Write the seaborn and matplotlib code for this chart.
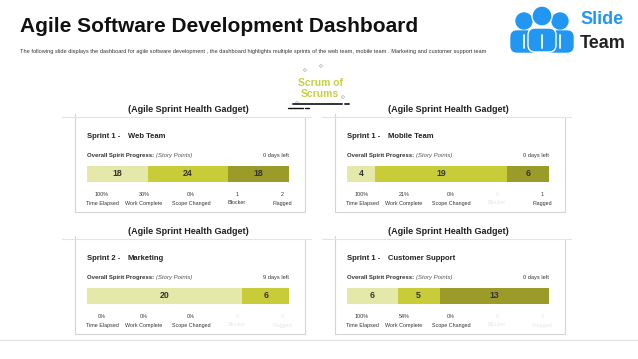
import matplotlib
matplotlib.use("Agg")
import matplotlib.pyplot as plt
from matplotlib.patches import Circle, FancyBboxPatch
import seaborn as sns
import numpy as np

# ---- data ----
title = "Agile Software Development Dashboard"
subtitle = ("The following slide displays the dashboard for agile software development , the dashboard "
            "highlights multiple sprints of the web team, mobile team . Marketing and customer support team")
gadget_title = "(Agile Sprint Health Gadget)"
center_title = ["Scrum of", "Scrums"]

sprints = ["Sprint 1 -", "Sprint 1 -", "Sprint 2 -", "Sprint 1 -"]
teams = ["Web Team", "Mobile Team", "Marketing", "Customer Support"]
days_left = ["0 days left", "0 days left", "9 days left", "0 days left"]
story_points = [[18, 24, 18], [4, 19, 6], [20, 6], [6, 5, 13]]
stat_labels = ["Time Elapsed", "Work Complete", "Scope Changed", "Blocker", "Flagged"]
stat_values = [["100%", "30%", "0%", "1", "2"],
               ["100%", "21%", "0%", "0", "1"],
               ["0%", "0%", "0%", "0", "0"],
               ["100%", "54%", "0%", "0", "0"]]

seg_colors = ["#E4E8A8", "#C8CC38", "#9A9B28"]
green = "#C8CE44"
W, H = 638, 359

sns.set_style("white")
plt.rcParams["font.family"] = ["Liberation Sans", "DejaVu Sans"]

fig = plt.figure(figsize=(W / 100, H / 100), dpi=100)
bg = fig.add_axes([0, 0, 1, 1])
bg.set_xlim(0, W)
bg.set_ylim(H, 0)
bg.axis("off")

# header
bg.text(20, 26, title, fontsize=15, fontweight="bold", color="#111", va="center")
bg.text(20, 51, subtitle, fontsize=4.1, color="#333", va="center")

# logo
blue = "#2196F3"
for cx, cy, r in [(524, 21, 8), (560, 21, 8)]:
    bg.add_patch(Circle((cx, cy), r, color=blue))
for x0, w in [(511, 26), (547, 26)]:
    bg.add_patch(FancyBboxPatch((x0, 31), w, 21, boxstyle="round,pad=0,rounding_size=6", color=blue))
bg.add_patch(Circle((542, 16), 10, color=blue, ec="white", lw=1))
bg.add_patch(FancyBboxPatch((528, 28), 28, 24, boxstyle="round,pad=0,rounding_size=7",
                            fc=blue, ec="white", lw=1))
for tx in [524, 542, 560]:
    bg.plot([tx, tx], [35, 48], color="white", lw=1.3)
bg.text(580, 19, "Slide", fontsize=13, fontweight="bold", color=blue, va="center")
bg.text(580, 44, "Team", fontsize=13, fontweight="bold", color="#222", va="center")

# scrum of scrums
bg.text(320, 83, center_title[0], fontsize=7.5, fontweight="bold", color=green, ha="center", va="center")
bg.text(320, 94, center_title[1], fontsize=7.5, fontweight="bold", color=green, ha="center", va="center")
for cx, cy in [(305, 70), (321, 66), (297, 103), (343, 97)]:
    bg.add_patch(Circle((cx, cy), 1.3, fc="white", ec="#AAAAAA", lw=0.5))
bg.plot([293, 342], [104, 104], color="#333", lw=1.4)
bg.plot([345, 349], [104, 104], color="#333", lw=1.4)
bg.plot([288, 303], [107.5, 107.5], color="#111", lw=1)
bg.plot([305, 309], [107.5, 107.5], color="#111", lw=1)

# footer line
bg.plot([0, W], [340, 340], color="#E2E2E2", lw=0.8)

bar_w, bar_h = 202, 16
origins = [(87, 166), (347, 166), (87, 288), (347, 288)]
stat_dx = [15, 57, 104, 150, 195]

for k, (bx, by) in enumerate(origins):
    top = by - 49  # header line
    # box + header line
    bg.plot([bx - 12, bx - 12, bx + bar_w + 16, bx + bar_w + 16],
            [top - 3, by + 46, by + 46, top],
            color="#D4D4D4", lw=0.8)
    bg.plot([bx - 25, bx + bar_w + 22], [top, top], color="#E8E8B8", lw=0.8)
    bg.text(bx + bar_w / 2, by - 56, gadget_title, fontsize=6.5, fontweight="bold",
            color="#222", ha="center", va="center")
    bg.text(bx, by - 29, sprints[k], fontsize=5.5, fontweight="bold", color="#222", va="center")
    bg.text(bx + 41, by - 29, teams[k], fontsize=5.5, fontweight="bold", color="#222", va="center")
    bg.text(bx, by - 11, "Overall Spirit Progress:", fontsize=4.3, fontweight="bold",
            color="#333", va="center")
    bg.text(bx + 69, by - 11, "(Story Points)", fontsize=4.3, style="italic",
            color="#555", va="center")
    bg.text(bx + bar_w, by - 11, days_left[k], fontsize=4.1, color="#333", ha="right", va="center")

    for j, (val, lab) in enumerate(zip(stat_values[k], stat_labels)):
        faded = lab in ("Blocker", "Flagged") and val == "0"
        c = "#E6E6E6" if faded else "#333"
        bg.text(bx + stat_dx[j], by + 29.5, val, fontsize=3.9, color=c, ha="center", va="baseline")
        bg.text(bx + stat_dx[j], by + 38.5, lab, fontsize=3.9, color=c, ha="center", va="baseline")

    # stacked bar via overlaid cumulative seaborn bars
    vals = story_points[k]
    cums = np.cumsum(vals)
    ax = fig.add_axes([bx / W, 1 - (by + bar_h) / H, bar_w / W, bar_h / H])
    for i in range(len(vals) - 1, -1, -1):
        sns.barplot(x=[cums[i]], y=["sp"], orient="h", color=seg_colors[i], saturation=1,
                    width=1.0, linewidth=0, errorbar=None, ax=ax)
    for i, v in enumerate(vals):
        ax.text(cums[i] - v / 2, 0, str(v), fontsize=6.3, fontweight="bold", color="#333",
                ha="center", va="center")
    ax.set_xlim(0, cums[-1])
    ax.set_ylim(0.5, -0.5)
    ax.axis("off")

fig.savefig("out.png", dpi=100)
